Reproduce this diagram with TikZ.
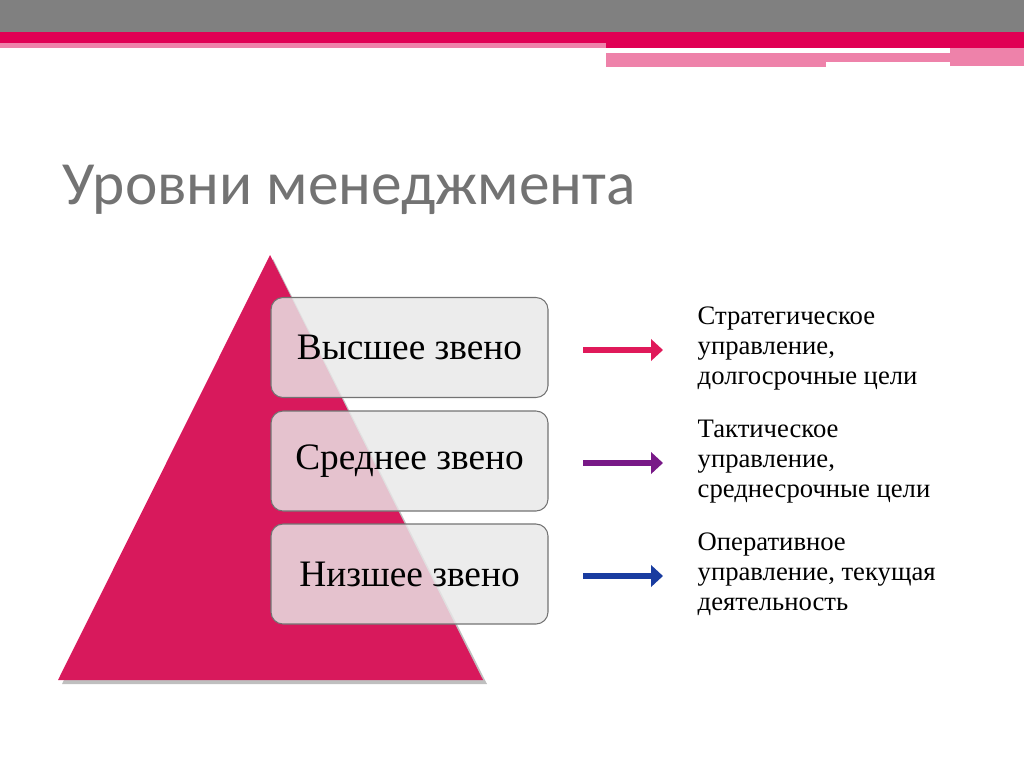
\documentclass[tikz,border=0pt]{standalone}
\usepackage{fontspec}
\usetikzlibrary{arrows.meta}
\setmainfont{Liberation Serif}
\newfontfamily\titlefont{Carlito}
\begin{document}
\begin{tikzpicture}[x=0.75pt,y=-0.75pt,
  lvl/.style={draw=black!55,line width=0.8pt,fill=gray!18,fill opacity=0.82,text opacity=1,rounded corners=9pt,minimum width=277*0.75pt,minimum height=100*0.75pt,font=\fontsize{28}{32}\selectfont},
  desc/.style={anchor=north west,align=left,font=\fontsize{20}{22.5}\selectfont},
  arr/.style={line width=4pt,-{Triangle[length=9pt,width=16pt]}}]
\useasboundingbox (0,0) rectangle (1024,767);
\fill[black!50] (0,0) rectangle (1024,32);
\fill[color={rgb,255:red,224;green,0;blue,84}] (0,32) rectangle (1024,48);
\fill[color={rgb,255:red,238;green,130;blue,170}] (0,43) rectangle (606,48);
\fill[color={rgb,255:red,238;green,130;blue,170}] (606,53) rectangle (826,67);
\fill[color={rgb,255:red,238;green,130;blue,170}] (826,53) rectangle (950,62);
\fill[color={rgb,255:red,238;green,130;blue,170}] (950,48) rectangle (1024,66);
\node[anchor=west,text=black!55,font=\titlefont\fontsize{46}{50}\selectfont] (title) at (58,190) {Уровни менеджмента};
\fill[black!25] (273,259) -- (487,684) -- (62,684) -- cycle;
\fill[color={rgb,255:red,216;green,25;blue,92}] (270,255) -- (483,680) -- (58,680) -- cycle;
\node[lvl] (b1) at (409.5,347.5) {Высшее звено};
\node[lvl] (b2) at (409.5,461) {Среднее звено};
\node[lvl] (b3) at (409.5,574) {Низшее звено};
\coordinate (a1) at (583,350); \coordinate (e1) at (663,350);
\coordinate (a2) at (583,463); \coordinate (e2) at (663,463);
\coordinate (a3) at (583,576); \coordinate (e3) at (663,576);
\draw[arr,color={rgb,255:red,224;green,25;blue,90}] (a1) -- (e1);
\draw[arr,color={rgb,255:red,120;green,25;blue,135}] (a2) -- (e2);
\draw[arr,color={rgb,255:red,25;green,60;blue,160}] (a3) -- (e3);
\node[desc] (d1) at (693,302) {Стратегическое\\управление,\\долгосрочные цели};
\node[desc] (d2) at (693,415) {Тактическое\\управление,\\среднесрочные цели};
\node[desc] (d3) at (693,528) {Оперативное\\управление, текущая\\деятельность};
\end{tikzpicture}
\end{document}
